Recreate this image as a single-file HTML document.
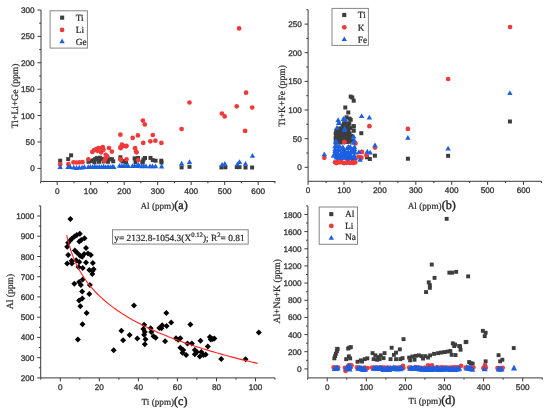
<!DOCTYPE html><html><head><meta charset="utf-8"><style>html,body{margin:0;padding:0;background:#fff;width:550px;height:415px;overflow:hidden}svg{display:block;filter:blur(0.3px)}</style></head><body><svg width="550" height="415" viewBox="0 0 550 415">
<style>.tl{font-family:"Liberation Sans",sans-serif;font-size:8.2px;fill:#333}.lg{font-family:"Liberation Serif",serif;font-size:9.4px;fill:#222}.at{font-family:"Liberation Serif",serif;font-size:9.2px;fill:#333}.pl{font-family:"Liberation Serif",serif;font-size:12.1px;fill:#222;stroke-width:0.4px}.yt{font-size:9.6px}text{stroke:#2a2a2a;stroke-width:0.22px;text-rendering:geometricPrecision}.tl{stroke:#333;stroke-width:0.3px}</style>
<rect width="550" height="415" fill="#fff"/>
<path d="M41 10V181.5H275.5" fill="none" stroke="#3a3a3a" stroke-width="1"/>
<path d="M37.5 168.4H41" stroke="#3a3a3a" stroke-width="1"/>
<text x="34.7" y="171.4" text-anchor="end" class="tl">0</text>
<path d="M39.2 155.2H41" stroke="#3a3a3a" stroke-width="1"/>
<path d="M37.5 142.0H41" stroke="#3a3a3a" stroke-width="1"/>
<text x="34.7" y="145.0" text-anchor="end" class="tl">50</text>
<path d="M39.2 128.8H41" stroke="#3a3a3a" stroke-width="1"/>
<path d="M37.5 115.6H41" stroke="#3a3a3a" stroke-width="1"/>
<text x="34.7" y="118.6" text-anchor="end" class="tl">100</text>
<path d="M39.2 102.4H41" stroke="#3a3a3a" stroke-width="1"/>
<path d="M37.5 89.2H41" stroke="#3a3a3a" stroke-width="1"/>
<text x="34.7" y="92.2" text-anchor="end" class="tl">150</text>
<path d="M39.2 76.0H41" stroke="#3a3a3a" stroke-width="1"/>
<path d="M37.5 62.8H41" stroke="#3a3a3a" stroke-width="1"/>
<text x="34.7" y="65.8" text-anchor="end" class="tl">200</text>
<path d="M39.2 49.6H41" stroke="#3a3a3a" stroke-width="1"/>
<path d="M37.5 36.4H41" stroke="#3a3a3a" stroke-width="1"/>
<text x="34.7" y="39.4" text-anchor="end" class="tl">250</text>
<path d="M39.2 23.2H41" stroke="#3a3a3a" stroke-width="1"/>
<path d="M37.5 10.0H41" stroke="#3a3a3a" stroke-width="1"/>
<text x="34.7" y="13.0" text-anchor="end" class="tl">300</text>
<path d="M40.5 181.5V183.3" stroke="#3a3a3a" stroke-width="1"/>
<path d="M57.2 181.5V185.0" stroke="#3a3a3a" stroke-width="1"/>
<text x="57.2" y="193.5" text-anchor="middle" class="tl">0</text>
<path d="M74.0 181.5V183.3" stroke="#3a3a3a" stroke-width="1"/>
<path d="M90.7 181.5V185.0" stroke="#3a3a3a" stroke-width="1"/>
<text x="90.7" y="193.5" text-anchor="middle" class="tl">100</text>
<path d="M107.5 181.5V183.3" stroke="#3a3a3a" stroke-width="1"/>
<path d="M124.2 181.5V185.0" stroke="#3a3a3a" stroke-width="1"/>
<text x="124.2" y="193.5" text-anchor="middle" class="tl">200</text>
<path d="M140.9 181.5V183.3" stroke="#3a3a3a" stroke-width="1"/>
<path d="M157.7 181.5V185.0" stroke="#3a3a3a" stroke-width="1"/>
<text x="157.7" y="193.5" text-anchor="middle" class="tl">300</text>
<path d="M174.4 181.5V183.3" stroke="#3a3a3a" stroke-width="1"/>
<path d="M191.2 181.5V185.0" stroke="#3a3a3a" stroke-width="1"/>
<text x="191.2" y="193.5" text-anchor="middle" class="tl">400</text>
<path d="M207.9 181.5V183.3" stroke="#3a3a3a" stroke-width="1"/>
<path d="M224.7 181.5V185.0" stroke="#3a3a3a" stroke-width="1"/>
<text x="224.7" y="193.5" text-anchor="middle" class="tl">500</text>
<path d="M241.4 181.5V183.3" stroke="#3a3a3a" stroke-width="1"/>
<path d="M258.2 181.5V185.0" stroke="#3a3a3a" stroke-width="1"/>
<text x="258.2" y="193.5" text-anchor="middle" class="tl">600</text>
<path d="M274.9 181.5V183.3" stroke="#3a3a3a" stroke-width="1"/>
<rect x="58.2" y="158.7" width="4.0" height="4.0" fill="#3d3d3d"/>
<rect x="66.2" y="157.1" width="4.0" height="4.0" fill="#3d3d3d"/>
<rect x="69.1" y="153.3" width="4.0" height="4.0" fill="#3d3d3d"/>
<rect x="86.5" y="159.8" width="4.0" height="4.0" fill="#3d3d3d"/>
<rect x="88.9" y="159.0" width="4.0" height="4.0" fill="#3d3d3d"/>
<rect x="91.4" y="158.2" width="4.0" height="4.0" fill="#3d3d3d"/>
<rect x="93.2" y="157.2" width="4.0" height="4.0" fill="#3d3d3d"/>
<rect x="94.7" y="156.1" width="4.0" height="4.0" fill="#3d3d3d"/>
<rect x="96.5" y="157.5" width="4.0" height="4.0" fill="#3d3d3d"/>
<rect x="97.9" y="155.7" width="4.0" height="4.0" fill="#3d3d3d"/>
<rect x="100.1" y="156.8" width="4.0" height="4.0" fill="#3d3d3d"/>
<rect x="104.0" y="157.9" width="4.0" height="4.0" fill="#3d3d3d"/>
<rect x="107.7" y="157.2" width="4.0" height="4.0" fill="#3d3d3d"/>
<rect x="109.9" y="157.2" width="4.0" height="4.0" fill="#3d3d3d"/>
<rect x="111.2" y="159.3" width="4.0" height="4.0" fill="#3d3d3d"/>
<rect x="92.5" y="160.3" width="4.0" height="4.0" fill="#3d3d3d"/>
<rect x="97.0" y="159.8" width="4.0" height="4.0" fill="#3d3d3d"/>
<rect x="101.5" y="159.5" width="4.0" height="4.0" fill="#3d3d3d"/>
<rect x="106.0" y="159.8" width="4.0" height="4.0" fill="#3d3d3d"/>
<rect x="118.4" y="155.3" width="4.0" height="4.0" fill="#3d3d3d"/>
<rect x="120.5" y="159.5" width="4.0" height="4.0" fill="#3d3d3d"/>
<rect x="123.0" y="159.0" width="4.0" height="4.0" fill="#3d3d3d"/>
<rect x="124.1" y="160.4" width="4.0" height="4.0" fill="#3d3d3d"/>
<rect x="132.6" y="156.4" width="4.0" height="4.0" fill="#3d3d3d"/>
<rect x="136.0" y="156.0" width="4.0" height="4.0" fill="#3d3d3d"/>
<rect x="133.5" y="160.0" width="4.0" height="4.0" fill="#3d3d3d"/>
<rect x="140.6" y="159.8" width="4.0" height="4.0" fill="#3d3d3d"/>
<rect x="141.5" y="157.5" width="4.0" height="4.0" fill="#3d3d3d"/>
<rect x="143.0" y="156.0" width="4.0" height="4.0" fill="#3d3d3d"/>
<rect x="140.5" y="160.5" width="4.0" height="4.0" fill="#3d3d3d"/>
<rect x="148.5" y="155.9" width="4.0" height="4.0" fill="#3d3d3d"/>
<rect x="150.8" y="158.1" width="4.0" height="4.0" fill="#3d3d3d"/>
<rect x="153.6" y="158.7" width="4.0" height="4.0" fill="#3d3d3d"/>
<rect x="159.3" y="158.7" width="4.0" height="4.0" fill="#3d3d3d"/>
<rect x="159.5" y="160.5" width="4.0" height="4.0" fill="#3d3d3d"/>
<rect x="179.6" y="165.4" width="4.0" height="4.0" fill="#3d3d3d"/>
<rect x="187.5" y="164.8" width="4.0" height="4.0" fill="#3d3d3d"/>
<rect x="219.4" y="165.4" width="4.0" height="4.0" fill="#3d3d3d"/>
<rect x="223.4" y="165.3" width="4.0" height="4.0" fill="#3d3d3d"/>
<rect x="234.8" y="165.1" width="4.0" height="4.0" fill="#3d3d3d"/>
<rect x="237.5" y="165.1" width="4.0" height="4.0" fill="#3d3d3d"/>
<rect x="243.5" y="165.5" width="4.0" height="4.0" fill="#3d3d3d"/>
<rect x="250.1" y="165.5" width="4.0" height="4.0" fill="#3d3d3d"/>
<circle cx="60.2" cy="164.4" r="2.35" fill="#f03a3a"/>
<circle cx="68.4" cy="164.2" r="2.35" fill="#f03a3a"/>
<circle cx="73.5" cy="162.3" r="2.35" fill="#f03a3a"/>
<circle cx="76.5" cy="162.5" r="2.35" fill="#f03a3a"/>
<circle cx="79.5" cy="162.3" r="2.35" fill="#f03a3a"/>
<circle cx="82.5" cy="162.2" r="2.35" fill="#f03a3a"/>
<circle cx="88.4" cy="159.3" r="2.35" fill="#f03a3a"/>
<circle cx="92.3" cy="151.9" r="2.35" fill="#f03a3a"/>
<circle cx="94.1" cy="150.1" r="2.35" fill="#f03a3a"/>
<circle cx="96.3" cy="149.0" r="2.35" fill="#f03a3a"/>
<circle cx="98.5" cy="148.0" r="2.35" fill="#f03a3a"/>
<circle cx="100.7" cy="148.3" r="2.35" fill="#f03a3a"/>
<circle cx="102.8" cy="147.2" r="2.35" fill="#f03a3a"/>
<circle cx="103.5" cy="149.8" r="2.35" fill="#f03a3a"/>
<circle cx="101.0" cy="152.3" r="2.35" fill="#f03a3a"/>
<circle cx="109.0" cy="148.0" r="2.35" fill="#f03a3a"/>
<circle cx="111.9" cy="151.6" r="2.35" fill="#f03a3a"/>
<circle cx="105.7" cy="154.8" r="2.35" fill="#f03a3a"/>
<circle cx="107.2" cy="156.3" r="2.35" fill="#f03a3a"/>
<circle cx="105.4" cy="158.8" r="2.35" fill="#f03a3a"/>
<circle cx="104.3" cy="161.0" r="2.35" fill="#f03a3a"/>
<circle cx="97.4" cy="150.8" r="2.35" fill="#f03a3a"/>
<circle cx="120.4" cy="147.3" r="2.35" fill="#f03a3a"/>
<circle cx="123.5" cy="145.8" r="2.35" fill="#f03a3a"/>
<circle cx="126.5" cy="145.8" r="2.35" fill="#f03a3a"/>
<circle cx="120.4" cy="159.3" r="2.35" fill="#f03a3a"/>
<circle cx="126.5" cy="159.3" r="2.35" fill="#f03a3a"/>
<circle cx="121.9" cy="144.7" r="2.35" fill="#f03a3a"/>
<circle cx="126.0" cy="146.3" r="2.35" fill="#f03a3a"/>
<circle cx="120.7" cy="148.2" r="2.35" fill="#f03a3a"/>
<circle cx="120.4" cy="134.7" r="2.35" fill="#f03a3a"/>
<circle cx="132.7" cy="137.9" r="2.35" fill="#f03a3a"/>
<circle cx="137.9" cy="135.4" r="2.35" fill="#f03a3a"/>
<circle cx="142.9" cy="120.6" r="2.35" fill="#f03a3a"/>
<circle cx="144.8" cy="124.4" r="2.35" fill="#f03a3a"/>
<circle cx="152.8" cy="135.0" r="2.35" fill="#f03a3a"/>
<circle cx="143.2" cy="142.9" r="2.35" fill="#f03a3a"/>
<circle cx="150.4" cy="141.3" r="2.35" fill="#f03a3a"/>
<circle cx="155.4" cy="140.7" r="2.35" fill="#f03a3a"/>
<circle cx="161.4" cy="142.9" r="2.35" fill="#f03a3a"/>
<circle cx="135.1" cy="148.2" r="2.35" fill="#f03a3a"/>
<circle cx="136.6" cy="152.3" r="2.35" fill="#f03a3a"/>
<circle cx="121.0" cy="159.8" r="2.35" fill="#f03a3a"/>
<circle cx="138.2" cy="160.0" r="2.35" fill="#f03a3a"/>
<circle cx="136.0" cy="151.5" r="2.35" fill="#f03a3a"/>
<circle cx="181.6" cy="129.0" r="2.35" fill="#f03a3a"/>
<circle cx="189.5" cy="102.5" r="2.35" fill="#f03a3a"/>
<circle cx="221.9" cy="113.5" r="2.35" fill="#f03a3a"/>
<circle cx="224.7" cy="116.4" r="2.35" fill="#f03a3a"/>
<circle cx="236.7" cy="106.3" r="2.35" fill="#f03a3a"/>
<circle cx="246.1" cy="92.7" r="2.35" fill="#f03a3a"/>
<circle cx="252.2" cy="107.5" r="2.35" fill="#f03a3a"/>
<circle cx="245.1" cy="130.9" r="2.35" fill="#f03a3a"/>
<circle cx="239.1" cy="28.4" r="2.35" fill="#f03a3a"/>
<path d="M57.5 169.0L62.9 169.0L60.2 164.2Z" fill="#1d5fe2"/>
<path d="M65.3 169.0L70.7 169.0L68.0 164.2Z" fill="#1d5fe2"/>
<path d="M67.6 169.0L73.0 169.0L70.3 164.2Z" fill="#1d5fe2"/>
<path d="M71.1 169.5L76.5 169.5L73.8 164.7Z" fill="#1d5fe2"/>
<path d="M73.8 169.9L79.2 169.9L76.5 165.1Z" fill="#1d5fe2"/>
<path d="M76.5 169.5L81.9 169.5L79.2 164.7Z" fill="#1d5fe2"/>
<path d="M79.3 169.5L84.7 169.5L82.0 164.7Z" fill="#1d5fe2"/>
<path d="M81.6 169.0L87.0 169.0L84.3 164.2Z" fill="#1d5fe2"/>
<path d="M85.5 169.0L90.9 169.0L88.2 164.2Z" fill="#1d5fe2"/>
<path d="M87.7 168.7L93.1 168.7L90.4 163.9Z" fill="#1d5fe2"/>
<path d="M89.9 169.0L95.3 169.0L92.6 164.2Z" fill="#1d5fe2"/>
<path d="M92.1 168.5L97.5 168.5L94.8 163.7Z" fill="#1d5fe2"/>
<path d="M94.3 169.0L99.7 169.0L97.0 164.2Z" fill="#1d5fe2"/>
<path d="M96.5 168.7L101.9 168.7L99.2 163.9Z" fill="#1d5fe2"/>
<path d="M98.7 169.0L104.1 169.0L101.4 164.2Z" fill="#1d5fe2"/>
<path d="M100.9 168.5L106.3 168.5L103.6 163.7Z" fill="#1d5fe2"/>
<path d="M103.1 169.0L108.5 169.0L105.8 164.2Z" fill="#1d5fe2"/>
<path d="M105.3 168.7L110.7 168.7L108.0 163.9Z" fill="#1d5fe2"/>
<path d="M107.5 169.0L112.9 169.0L110.2 164.2Z" fill="#1d5fe2"/>
<path d="M109.7 168.7L115.1 168.7L112.4 163.9Z" fill="#1d5fe2"/>
<path d="M111.1 169.0L116.5 169.0L113.8 164.2Z" fill="#1d5fe2"/>
<path d="M116.8 167.7L122.2 167.7L119.5 162.9Z" fill="#1d5fe2"/>
<path d="M119.1 168.0L124.5 168.0L121.8 163.2Z" fill="#1d5fe2"/>
<path d="M121.4 167.7L126.8 167.7L124.1 162.9Z" fill="#1d5fe2"/>
<path d="M123.7 168.0L129.1 168.0L126.4 163.2Z" fill="#1d5fe2"/>
<path d="M125.6 168.0L131.0 168.0L128.3 163.2Z" fill="#1d5fe2"/>
<path d="M129.8 168.0L135.2 168.0L132.5 163.2Z" fill="#1d5fe2"/>
<path d="M132.0 167.7L137.4 167.7L134.7 162.9Z" fill="#1d5fe2"/>
<path d="M134.2 168.0L139.6 168.0L136.9 163.2Z" fill="#1d5fe2"/>
<path d="M135.9 166.9L141.3 166.9L138.6 162.1Z" fill="#1d5fe2"/>
<path d="M138.8 168.2L144.2 168.2L141.5 163.4Z" fill="#1d5fe2"/>
<path d="M141.0 168.0L146.4 168.0L143.7 163.2Z" fill="#1d5fe2"/>
<path d="M143.3 168.2L148.7 168.2L146.0 163.4Z" fill="#1d5fe2"/>
<path d="M147.3 168.2L152.7 168.2L150.0 163.4Z" fill="#1d5fe2"/>
<path d="M149.8 168.2L155.2 168.2L152.5 163.4Z" fill="#1d5fe2"/>
<path d="M152.8 168.2L158.2 168.2L155.5 163.4Z" fill="#1d5fe2"/>
<path d="M158.9 168.4L164.3 168.4L161.6 163.6Z" fill="#1d5fe2"/>
<path d="M178.9 165.6L184.3 165.6L181.6 160.8Z" fill="#1d5fe2"/>
<path d="M186.8 164.0L192.2 164.0L189.5 159.2Z" fill="#1d5fe2"/>
<path d="M219.4 166.7L224.8 166.7L222.1 161.9Z" fill="#1d5fe2"/>
<path d="M222.1 165.7L227.5 165.7L224.8 160.9Z" fill="#1d5fe2"/>
<path d="M234.7 166.2L240.1 166.2L237.4 161.4Z" fill="#1d5fe2"/>
<path d="M236.8 164.0L242.2 164.0L239.5 159.2Z" fill="#1d5fe2"/>
<path d="M242.8 165.7L248.2 165.7L245.5 160.9Z" fill="#1d5fe2"/>
<path d="M249.8 157.8L255.2 157.8L252.5 153.0Z" fill="#1d5fe2"/>
<rect x="50.1" y="10.8" width="37.3" height="37.3" fill="#fff" stroke="#858585" stroke-width="1"/>
<rect x="60.1" y="15.6" width="4.1" height="4.1" fill="#3d3d3d"/>
<circle cx="62.1" cy="29.9" r="2.4" fill="#f03a3a"/>
<path d="M59.4 43.2L64.8 43.2L62.1 38.6Z" fill="#1d5fe2"/>
<text x="75.7" y="20.7" class="lg">Ti</text>
<text x="75.7" y="32.5" class="lg">Li</text>
<text x="75.7" y="44.8" class="lg">Ge</text>
<text x="17.8" y="95.9" transform="rotate(-90 17.8 95.9)" text-anchor="middle" class="at yt">Ti+Li+Ge (ppm)</text>
<text x="140.4" y="208.9" class="at">Al (ppm)<tspan class="pl">(a)</tspan></text>
<path d="M308.1 9.8V181.3H541.5" fill="none" stroke="#3a3a3a" stroke-width="1"/>
<path d="M304.6 167.3H308.1" stroke="#3a3a3a" stroke-width="1"/>
<text x="301.8" y="170.3" text-anchor="end" class="tl">0</text>
<path d="M306.3 153.0H308.1" stroke="#3a3a3a" stroke-width="1"/>
<path d="M304.6 138.7H308.1" stroke="#3a3a3a" stroke-width="1"/>
<text x="301.8" y="141.7" text-anchor="end" class="tl">50</text>
<path d="M306.3 124.3H308.1" stroke="#3a3a3a" stroke-width="1"/>
<path d="M304.6 110.0H308.1" stroke="#3a3a3a" stroke-width="1"/>
<text x="301.8" y="113.0" text-anchor="end" class="tl">100</text>
<path d="M306.3 95.7H308.1" stroke="#3a3a3a" stroke-width="1"/>
<path d="M304.6 81.4H308.1" stroke="#3a3a3a" stroke-width="1"/>
<text x="301.8" y="84.4" text-anchor="end" class="tl">150</text>
<path d="M306.3 67.0H308.1" stroke="#3a3a3a" stroke-width="1"/>
<path d="M304.6 52.7H308.1" stroke="#3a3a3a" stroke-width="1"/>
<text x="301.8" y="55.7" text-anchor="end" class="tl">200</text>
<path d="M306.3 38.4H308.1" stroke="#3a3a3a" stroke-width="1"/>
<path d="M304.6 24.1H308.1" stroke="#3a3a3a" stroke-width="1"/>
<text x="301.8" y="27.1" text-anchor="end" class="tl">250</text>
<path d="M306.3 9.7H308.1" stroke="#3a3a3a" stroke-width="1"/>
<path d="M308.1 181.3V184.8" stroke="#3a3a3a" stroke-width="1"/>
<text x="308.1" y="193.3" text-anchor="middle" class="tl">0</text>
<path d="M326.1 181.3V183.10000000000002" stroke="#3a3a3a" stroke-width="1"/>
<path d="M344.0 181.3V184.8" stroke="#3a3a3a" stroke-width="1"/>
<text x="344.0" y="193.3" text-anchor="middle" class="tl">100</text>
<path d="M362.0 181.3V183.10000000000002" stroke="#3a3a3a" stroke-width="1"/>
<path d="M379.9 181.3V184.8" stroke="#3a3a3a" stroke-width="1"/>
<text x="379.9" y="193.3" text-anchor="middle" class="tl">200</text>
<path d="M397.9 181.3V183.10000000000002" stroke="#3a3a3a" stroke-width="1"/>
<path d="M415.8 181.3V184.8" stroke="#3a3a3a" stroke-width="1"/>
<text x="415.8" y="193.3" text-anchor="middle" class="tl">300</text>
<path d="M433.8 181.3V183.10000000000002" stroke="#3a3a3a" stroke-width="1"/>
<path d="M451.7 181.3V184.8" stroke="#3a3a3a" stroke-width="1"/>
<text x="451.7" y="193.3" text-anchor="middle" class="tl">400</text>
<path d="M469.6 181.3V183.10000000000002" stroke="#3a3a3a" stroke-width="1"/>
<path d="M487.6 181.3V184.8" stroke="#3a3a3a" stroke-width="1"/>
<text x="487.6" y="193.3" text-anchor="middle" class="tl">500</text>
<path d="M505.6 181.3V183.10000000000002" stroke="#3a3a3a" stroke-width="1"/>
<path d="M523.5 181.3V184.8" stroke="#3a3a3a" stroke-width="1"/>
<text x="523.5" y="193.3" text-anchor="middle" class="tl">600</text>
<path d="M541.5 181.3V183.10000000000002" stroke="#3a3a3a" stroke-width="1"/>
<rect x="348.7" y="94.6" width="4.0" height="4.0" fill="#3d3d3d"/>
<rect x="350.3" y="95.5" width="4.0" height="4.0" fill="#3d3d3d"/>
<rect x="351.7" y="98.7" width="4.0" height="4.0" fill="#3d3d3d"/>
<rect x="343.3" y="105.5" width="4.0" height="4.0" fill="#3d3d3d"/>
<rect x="346.3" y="110.5" width="4.0" height="4.0" fill="#3d3d3d"/>
<rect x="344.5" y="115.3" width="4.0" height="4.0" fill="#3d3d3d"/>
<rect x="347.5" y="116.6" width="4.0" height="4.0" fill="#3d3d3d"/>
<rect x="348.7" y="117.8" width="4.0" height="4.0" fill="#3d3d3d"/>
<rect x="351.7" y="124.1" width="4.0" height="4.0" fill="#3d3d3d"/>
<rect x="342.1" y="121.4" width="4.0" height="4.0" fill="#3d3d3d"/>
<rect x="344.5" y="123.8" width="4.0" height="4.0" fill="#3d3d3d"/>
<rect x="351.7" y="124.5" width="4.0" height="4.0" fill="#3d3d3d"/>
<rect x="351.7" y="128.8" width="4.0" height="4.0" fill="#3d3d3d"/>
<rect x="359.3" y="131.2" width="4.0" height="4.0" fill="#3d3d3d"/>
<rect x="364.9" y="155.3" width="4.0" height="4.0" fill="#3d3d3d"/>
<rect x="367.8" y="157.0" width="4.0" height="4.0" fill="#3d3d3d"/>
<rect x="372.9" y="153.7" width="4.0" height="4.0" fill="#3d3d3d"/>
<rect x="405.9" y="156.7" width="4.0" height="4.0" fill="#3d3d3d"/>
<rect x="446.1" y="153.8" width="4.0" height="4.0" fill="#3d3d3d"/>
<rect x="507.9" y="119.5" width="4.0" height="4.0" fill="#3d3d3d"/>
<rect x="351.0" y="158.0" width="4.0" height="4.0" fill="#3d3d3d"/>
<rect x="348.0" y="156.0" width="4.0" height="4.0" fill="#3d3d3d"/>
<rect x="342.5" y="121.3" width="4.0" height="4.0" fill="#3d3d3d"/>
<rect x="345.3" y="121.6" width="4.0" height="4.0" fill="#3d3d3d"/>
<rect x="347.3" y="121.4" width="4.0" height="4.0" fill="#3d3d3d"/>
<rect x="340.6" y="123.6" width="4.0" height="4.0" fill="#3d3d3d"/>
<rect x="342.9" y="123.8" width="4.0" height="4.0" fill="#3d3d3d"/>
<rect x="346.5" y="124.1" width="4.0" height="4.0" fill="#3d3d3d"/>
<rect x="336.5" y="126.7" width="4.0" height="4.0" fill="#3d3d3d"/>
<rect x="338.7" y="126.5" width="4.0" height="4.0" fill="#3d3d3d"/>
<rect x="342.0" y="126.9" width="4.0" height="4.0" fill="#3d3d3d"/>
<rect x="345.1" y="126.2" width="4.0" height="4.0" fill="#3d3d3d"/>
<rect x="348.3" y="126.0" width="4.0" height="4.0" fill="#3d3d3d"/>
<rect x="334.3" y="128.8" width="4.0" height="4.0" fill="#3d3d3d"/>
<rect x="337.0" y="129.0" width="4.0" height="4.0" fill="#3d3d3d"/>
<rect x="340.8" y="128.9" width="4.0" height="4.0" fill="#3d3d3d"/>
<rect x="343.9" y="128.6" width="4.0" height="4.0" fill="#3d3d3d"/>
<rect x="346.5" y="128.9" width="4.0" height="4.0" fill="#3d3d3d"/>
<rect x="333.7" y="131.6" width="4.0" height="4.0" fill="#3d3d3d"/>
<rect x="336.1" y="131.3" width="4.0" height="4.0" fill="#3d3d3d"/>
<rect x="338.5" y="131.3" width="4.0" height="4.0" fill="#3d3d3d"/>
<rect x="342.1" y="131.7" width="4.0" height="4.0" fill="#3d3d3d"/>
<rect x="345.2" y="130.8" width="4.0" height="4.0" fill="#3d3d3d"/>
<rect x="347.6" y="131.3" width="4.0" height="4.0" fill="#3d3d3d"/>
<rect x="334.3" y="133.0" width="4.0" height="4.0" fill="#3d3d3d"/>
<rect x="337.1" y="133.7" width="4.0" height="4.0" fill="#3d3d3d"/>
<rect x="340.1" y="133.1" width="4.0" height="4.0" fill="#3d3d3d"/>
<rect x="343.3" y="133.9" width="4.0" height="4.0" fill="#3d3d3d"/>
<rect x="345.8" y="133.4" width="4.0" height="4.0" fill="#3d3d3d"/>
<rect x="349.3" y="133.9" width="4.0" height="4.0" fill="#3d3d3d"/>
<rect x="333.6" y="136.2" width="4.0" height="4.0" fill="#3d3d3d"/>
<rect x="335.9" y="135.6" width="4.0" height="4.0" fill="#3d3d3d"/>
<rect x="338.9" y="136.2" width="4.0" height="4.0" fill="#3d3d3d"/>
<rect x="342.5" y="135.3" width="4.0" height="4.0" fill="#3d3d3d"/>
<rect x="344.5" y="135.4" width="4.0" height="4.0" fill="#3d3d3d"/>
<rect x="347.4" y="135.7" width="4.0" height="4.0" fill="#3d3d3d"/>
<rect x="334.1" y="138.0" width="4.0" height="4.0" fill="#3d3d3d"/>
<rect x="337.4" y="138.1" width="4.0" height="4.0" fill="#3d3d3d"/>
<rect x="341.0" y="138.3" width="4.0" height="4.0" fill="#3d3d3d"/>
<rect x="343.4" y="138.2" width="4.0" height="4.0" fill="#3d3d3d"/>
<rect x="346.5" y="137.5" width="4.0" height="4.0" fill="#3d3d3d"/>
<rect x="349.7" y="138.4" width="4.0" height="4.0" fill="#3d3d3d"/>
<rect x="333.7" y="140.7" width="4.0" height="4.0" fill="#3d3d3d"/>
<rect x="336.0" y="140.3" width="4.0" height="4.0" fill="#3d3d3d"/>
<rect x="338.6" y="140.5" width="4.0" height="4.0" fill="#3d3d3d"/>
<rect x="341.4" y="139.9" width="4.0" height="4.0" fill="#3d3d3d"/>
<rect x="344.5" y="140.0" width="4.0" height="4.0" fill="#3d3d3d"/>
<rect x="347.6" y="139.8" width="4.0" height="4.0" fill="#3d3d3d"/>
<circle cx="337.6" cy="161.2" r="2.35" fill="#f03a3a"/>
<circle cx="347.6" cy="161.3" r="2.35" fill="#f03a3a"/>
<circle cx="335.0" cy="162.3" r="2.35" fill="#f03a3a"/>
<circle cx="336.5" cy="163.1" r="2.35" fill="#f03a3a"/>
<circle cx="339.3" cy="162.3" r="2.35" fill="#f03a3a"/>
<circle cx="341.6" cy="162.2" r="2.35" fill="#f03a3a"/>
<circle cx="343.9" cy="163.1" r="2.35" fill="#f03a3a"/>
<circle cx="346.5" cy="162.8" r="2.35" fill="#f03a3a"/>
<circle cx="348.2" cy="162.5" r="2.35" fill="#f03a3a"/>
<circle cx="350.4" cy="162.9" r="2.35" fill="#f03a3a"/>
<circle cx="353.1" cy="162.9" r="2.35" fill="#f03a3a"/>
<circle cx="355.2" cy="162.4" r="2.35" fill="#f03a3a"/>
<circle cx="344.3" cy="142.1" r="2.35" fill="#f03a3a"/>
<path d="M332.2 148.2L337.6 148.2L334.9 143.4Z" fill="#1d5fe2"/>
<path d="M333.9 148.0L339.3 148.0L336.6 143.2Z" fill="#1d5fe2"/>
<path d="M336.6 147.9L342.0 147.9L339.3 143.1Z" fill="#1d5fe2"/>
<path d="M340.1 149.0L345.5 149.0L342.8 144.2Z" fill="#1d5fe2"/>
<path d="M345.7 148.9L351.1 148.9L348.4 144.1Z" fill="#1d5fe2"/>
<path d="M347.6 148.7L353.0 148.7L350.3 143.9Z" fill="#1d5fe2"/>
<path d="M351.8 148.9L357.2 148.9L354.5 144.1Z" fill="#1d5fe2"/>
<path d="M332.4 151.1L337.8 151.1L335.1 146.3Z" fill="#1d5fe2"/>
<path d="M335.4 151.1L340.8 151.1L338.1 146.3Z" fill="#1d5fe2"/>
<path d="M339.3 150.5L344.7 150.5L342.0 145.7Z" fill="#1d5fe2"/>
<path d="M341.1 151.4L346.5 151.4L343.8 146.6Z" fill="#1d5fe2"/>
<path d="M344.5 150.1L349.9 150.1L347.2 145.3Z" fill="#1d5fe2"/>
<path d="M346.3 150.1L351.7 150.1L349.0 145.3Z" fill="#1d5fe2"/>
<path d="M350.3 151.1L355.7 151.1L353.0 146.3Z" fill="#1d5fe2"/>
<path d="M351.9 151.2L357.3 151.2L354.6 146.4Z" fill="#1d5fe2"/>
<path d="M332.3 153.1L337.7 153.1L335.0 148.3Z" fill="#1d5fe2"/>
<path d="M334.1 153.0L339.5 153.0L336.8 148.2Z" fill="#1d5fe2"/>
<path d="M336.5 152.1L341.9 152.1L339.2 147.3Z" fill="#1d5fe2"/>
<path d="M340.7 153.1L346.1 153.1L343.4 148.3Z" fill="#1d5fe2"/>
<path d="M342.7 153.6L348.1 153.6L345.4 148.8Z" fill="#1d5fe2"/>
<path d="M345.4 153.5L350.8 153.5L348.1 148.7Z" fill="#1d5fe2"/>
<path d="M348.8 152.4L354.2 152.4L351.5 147.6Z" fill="#1d5fe2"/>
<path d="M350.7 152.5L356.1 152.5L353.4 147.7Z" fill="#1d5fe2"/>
<path d="M332.5 155.0L337.9 155.0L335.2 150.2Z" fill="#1d5fe2"/>
<path d="M335.1 155.8L340.5 155.8L337.8 151.0Z" fill="#1d5fe2"/>
<path d="M338.3 155.1L343.7 155.1L341.0 150.3Z" fill="#1d5fe2"/>
<path d="M341.4 155.8L346.8 155.8L344.1 151.0Z" fill="#1d5fe2"/>
<path d="M344.0 155.8L349.4 155.8L346.7 151.0Z" fill="#1d5fe2"/>
<path d="M346.9 155.2L352.3 155.2L349.6 150.4Z" fill="#1d5fe2"/>
<path d="M349.7 154.3L355.1 154.3L352.4 149.5Z" fill="#1d5fe2"/>
<path d="M352.4 154.6L357.8 154.6L355.1 149.8Z" fill="#1d5fe2"/>
<path d="M330.7 157.8L336.1 157.8L333.4 153.0Z" fill="#1d5fe2"/>
<path d="M333.8 157.3L339.2 157.3L336.5 152.5Z" fill="#1d5fe2"/>
<path d="M337.5 157.5L342.9 157.5L340.2 152.7Z" fill="#1d5fe2"/>
<path d="M339.6 157.4L345.0 157.4L342.3 152.6Z" fill="#1d5fe2"/>
<path d="M342.8 157.8L348.2 157.8L345.5 153.0Z" fill="#1d5fe2"/>
<path d="M344.9 157.5L350.3 157.5L347.6 152.7Z" fill="#1d5fe2"/>
<path d="M347.9 157.0L353.3 157.0L350.6 152.2Z" fill="#1d5fe2"/>
<path d="M351.5 157.4L356.9 157.4L354.2 152.6Z" fill="#1d5fe2"/>
<path d="M333.6 159.5L339.0 159.5L336.3 154.7Z" fill="#1d5fe2"/>
<path d="M335.9 159.6L341.3 159.6L338.6 154.8Z" fill="#1d5fe2"/>
<path d="M338.5 159.9L343.9 159.9L341.2 155.1Z" fill="#1d5fe2"/>
<path d="M341.2 159.7L346.6 159.7L343.9 154.9Z" fill="#1d5fe2"/>
<path d="M344.1 160.3L349.5 160.3L346.8 155.5Z" fill="#1d5fe2"/>
<path d="M347.2 160.2L352.6 160.2L349.9 155.4Z" fill="#1d5fe2"/>
<path d="M350.4 159.2L355.8 159.2L353.1 154.4Z" fill="#1d5fe2"/>
<path d="M352.6 160.3L358.0 160.3L355.3 155.5Z" fill="#1d5fe2"/>
<circle cx="369.4" cy="126.2" r="2.35" fill="#f03a3a"/>
<circle cx="324.3" cy="157.8" r="2.35" fill="#f03a3a"/>
<circle cx="375.0" cy="147.6" r="2.35" fill="#f03a3a"/>
<circle cx="361.8" cy="151.9" r="2.35" fill="#f03a3a"/>
<circle cx="358.4" cy="156.9" r="2.35" fill="#f03a3a"/>
<circle cx="361.4" cy="157.8" r="2.35" fill="#f03a3a"/>
<circle cx="366.4" cy="155.2" r="2.35" fill="#f03a3a"/>
<circle cx="353.4" cy="162.0" r="2.35" fill="#f03a3a"/>
<circle cx="344.3" cy="142.2" r="2.35" fill="#f03a3a"/>
<circle cx="361.9" cy="152.0" r="2.35" fill="#f03a3a"/>
<circle cx="360.8" cy="157.4" r="2.35" fill="#f03a3a"/>
<circle cx="355.5" cy="143.4" r="2.35" fill="#f03a3a"/>
<circle cx="510.1" cy="27.0" r="2.35" fill="#f03a3a"/>
<circle cx="448.1" cy="79.0" r="2.35" fill="#f03a3a"/>
<circle cx="407.9" cy="128.9" r="2.35" fill="#f03a3a"/>
<path d="M358.9 118.1L364.3 118.1L361.6 113.3Z" fill="#1d5fe2"/>
<path d="M366.7 119.5L372.1 119.5L369.4 114.7Z" fill="#1d5fe2"/>
<path d="M335.4 122.0L340.8 122.0L338.1 117.2Z" fill="#1d5fe2"/>
<path d="M342.6 121.4L348.0 121.4L345.3 116.6Z" fill="#1d5fe2"/>
<path d="M336.0 125.0L341.4 125.0L338.7 120.2Z" fill="#1d5fe2"/>
<path d="M334.2 129.8L339.6 129.8L336.9 125.0Z" fill="#1d5fe2"/>
<path d="M342.0 130.4L347.4 130.4L344.7 125.6Z" fill="#1d5fe2"/>
<path d="M336.4 124.4L341.8 124.4L339.1 119.6Z" fill="#1d5fe2"/>
<path d="M341.8 132.0L347.2 132.0L344.5 127.2Z" fill="#1d5fe2"/>
<path d="M351.0 138.5L356.4 138.5L353.7 133.7Z" fill="#1d5fe2"/>
<path d="M333.1 143.3L338.5 143.3L335.8 138.5Z" fill="#1d5fe2"/>
<path d="M351.6 142.3L357.0 142.3L354.3 137.5Z" fill="#1d5fe2"/>
<path d="M340.7 120.9L346.1 120.9L343.4 116.1Z" fill="#1d5fe2"/>
<path d="M321.6 156.3L327.0 156.3L324.3 151.5Z" fill="#1d5fe2"/>
<path d="M333.6 143.8L339.0 143.8L336.3 139.0Z" fill="#1d5fe2"/>
<path d="M350.8 144.7L356.2 144.7L353.5 139.9Z" fill="#1d5fe2"/>
<path d="M372.3 147.3L377.7 147.3L375.0 142.5Z" fill="#1d5fe2"/>
<path d="M356.2 154.1L361.6 154.1L358.9 149.3Z" fill="#1d5fe2"/>
<path d="M357.4 161.7L362.8 161.7L360.1 156.9Z" fill="#1d5fe2"/>
<path d="M364.6 153.6L370.0 153.6L367.3 148.8Z" fill="#1d5fe2"/>
<path d="M367.5 154.5L372.9 154.5L370.2 149.7Z" fill="#1d5fe2"/>
<path d="M507.2 95.0L512.6 95.0L509.9 90.2Z" fill="#1d5fe2"/>
<path d="M445.4 150.6L450.8 150.6L448.1 145.8Z" fill="#1d5fe2"/>
<path d="M405.2 139.7L410.6 139.7L407.9 134.9Z" fill="#1d5fe2"/>
<rect x="332" y="8.4" width="36.4" height="37.0" fill="#fff" stroke="#858585" stroke-width="1"/>
<rect x="342.2" y="12.9" width="4.1" height="4.1" fill="#3d3d3d"/>
<circle cx="344.3" cy="27.3" r="2.4" fill="#f03a3a"/>
<path d="M341.6 41.0L347.0 41.0L344.3 36.4Z" fill="#1d5fe2"/>
<text x="357.8" y="18.4" class="lg">Ti</text>
<text x="357.8" y="30.5" class="lg">K</text>
<text x="357.8" y="42.5" class="lg">Fe</text>
<text x="284.8" y="95.8" transform="rotate(-90 284.8 95.8)" text-anchor="middle" class="at yt">Ti+K+Fe (ppm)</text>
<text x="407.7" y="208.8" class="at">Al (ppm)<tspan class="pl">(b)</tspan></text>
<path d="M40.7 205.9V377.9H274.9" fill="none" stroke="#3a3a3a" stroke-width="1"/>
<path d="M37.2 377.9H40.7" stroke="#3a3a3a" stroke-width="1"/>
<text x="34.4" y="380.9" text-anchor="end" class="tl">200</text>
<path d="M38.900000000000006 367.8H40.7" stroke="#3a3a3a" stroke-width="1"/>
<path d="M37.2 357.7H40.7" stroke="#3a3a3a" stroke-width="1"/>
<text x="34.4" y="360.7" text-anchor="end" class="tl">300</text>
<path d="M38.900000000000006 347.5H40.7" stroke="#3a3a3a" stroke-width="1"/>
<path d="M37.2 337.4H40.7" stroke="#3a3a3a" stroke-width="1"/>
<text x="34.4" y="340.4" text-anchor="end" class="tl">400</text>
<path d="M38.900000000000006 327.3H40.7" stroke="#3a3a3a" stroke-width="1"/>
<path d="M37.2 317.2H40.7" stroke="#3a3a3a" stroke-width="1"/>
<text x="34.4" y="320.2" text-anchor="end" class="tl">500</text>
<path d="M38.900000000000006 307.1H40.7" stroke="#3a3a3a" stroke-width="1"/>
<path d="M37.2 296.9H40.7" stroke="#3a3a3a" stroke-width="1"/>
<text x="34.4" y="299.9" text-anchor="end" class="tl">600</text>
<path d="M38.900000000000006 286.8H40.7" stroke="#3a3a3a" stroke-width="1"/>
<path d="M37.2 276.7H40.7" stroke="#3a3a3a" stroke-width="1"/>
<text x="34.4" y="279.7" text-anchor="end" class="tl">700</text>
<path d="M38.900000000000006 266.6H40.7" stroke="#3a3a3a" stroke-width="1"/>
<path d="M37.2 256.5H40.7" stroke="#3a3a3a" stroke-width="1"/>
<text x="34.4" y="259.5" text-anchor="end" class="tl">800</text>
<path d="M38.900000000000006 246.3H40.7" stroke="#3a3a3a" stroke-width="1"/>
<path d="M37.2 236.2H40.7" stroke="#3a3a3a" stroke-width="1"/>
<text x="34.4" y="239.2" text-anchor="end" class="tl">900</text>
<path d="M38.900000000000006 226.1H40.7" stroke="#3a3a3a" stroke-width="1"/>
<path d="M37.2 216.0H40.7" stroke="#3a3a3a" stroke-width="1"/>
<text x="34.4" y="219.0" text-anchor="end" class="tl">1000</text>
<path d="M38.900000000000006 205.9H40.7" stroke="#3a3a3a" stroke-width="1"/>
<path d="M40.8 377.9V379.7" stroke="#3a3a3a" stroke-width="1"/>
<path d="M60.3 377.9V381.4" stroke="#3a3a3a" stroke-width="1"/>
<text x="60.3" y="389.9" text-anchor="middle" class="tl">0</text>
<path d="M79.8 377.9V379.7" stroke="#3a3a3a" stroke-width="1"/>
<path d="M99.3 377.9V381.4" stroke="#3a3a3a" stroke-width="1"/>
<text x="99.3" y="389.9" text-anchor="middle" class="tl">20</text>
<path d="M118.9 377.9V379.7" stroke="#3a3a3a" stroke-width="1"/>
<path d="M138.4 377.9V381.4" stroke="#3a3a3a" stroke-width="1"/>
<text x="138.4" y="389.9" text-anchor="middle" class="tl">40</text>
<path d="M157.9 377.9V379.7" stroke="#3a3a3a" stroke-width="1"/>
<path d="M177.4 377.9V381.4" stroke="#3a3a3a" stroke-width="1"/>
<text x="177.4" y="389.9" text-anchor="middle" class="tl">60</text>
<path d="M196.9 377.9V379.7" stroke="#3a3a3a" stroke-width="1"/>
<path d="M216.5 377.9V381.4" stroke="#3a3a3a" stroke-width="1"/>
<text x="216.5" y="389.9" text-anchor="middle" class="tl">80</text>
<path d="M236.0 377.9V379.7" stroke="#3a3a3a" stroke-width="1"/>
<path d="M255.5 377.9V381.4" stroke="#3a3a3a" stroke-width="1"/>
<text x="255.5" y="389.9" text-anchor="middle" class="tl">100</text>
<path d="M275.0 377.9V379.7" stroke="#3a3a3a" stroke-width="1"/>
<path d="M70.4 216.0L73.4 219.0L70.4 222.0L67.4 219.0Z" fill="#000"/>
<path d="M79.8 230.7L82.8 233.7L79.8 236.7L76.8 233.7Z" fill="#000"/>
<path d="M76.9 232.1L79.9 235.1L76.9 238.1L73.9 235.1Z" fill="#000"/>
<path d="M74.5 233.6L77.5 236.6L74.5 239.6L71.5 236.6Z" fill="#000"/>
<path d="M72.0 235.5L75.0 238.5L72.0 241.5L69.0 238.5Z" fill="#000"/>
<path d="M70.1 237.4L73.1 240.4L70.1 243.4L67.1 240.4Z" fill="#000"/>
<path d="M68.2 239.8L71.2 242.8L68.2 245.8L65.2 242.8Z" fill="#000"/>
<path d="M84.5 235.2L87.5 238.2L84.5 241.2L81.5 238.2Z" fill="#000"/>
<path d="M81.2 236.9L84.2 239.9L81.2 242.9L78.2 239.9Z" fill="#000"/>
<path d="M79.3 238.4L82.3 241.4L79.3 244.4L76.3 241.4Z" fill="#000"/>
<path d="M67.2 243.7L70.2 246.7L67.2 249.7L64.2 246.7Z" fill="#000"/>
<path d="M86.0 245.1L89.0 248.1L86.0 251.1L83.0 248.1Z" fill="#000"/>
<path d="M74.9 247.5L77.9 250.5L74.9 253.5L71.9 250.5Z" fill="#000"/>
<path d="M77.3 250.0L80.3 253.0L77.3 256.0L74.3 253.0Z" fill="#000"/>
<path d="M68.2 251.9L71.2 254.9L68.2 257.9L65.2 254.9Z" fill="#000"/>
<path d="M84.1 250.9L87.1 253.9L84.1 256.9L81.1 253.9Z" fill="#000"/>
<path d="M88.0 250.4L91.0 253.4L88.0 256.4L85.0 253.4Z" fill="#000"/>
<path d="M90.8 251.9L93.8 254.9L90.8 257.9L87.8 254.9Z" fill="#000"/>
<path d="M80.2 252.8L83.2 255.8L80.2 258.8L77.2 255.8Z" fill="#000"/>
<path d="M82.2 253.8L85.2 256.8L82.2 259.8L79.2 256.8Z" fill="#000"/>
<path d="M67.2 260.6L70.2 263.6L67.2 266.6L64.2 263.6Z" fill="#000"/>
<path d="M71.6 257.7L74.6 260.7L71.6 263.7L68.6 260.7Z" fill="#000"/>
<path d="M79.3 259.1L82.3 262.1L79.3 265.1L76.3 262.1Z" fill="#000"/>
<path d="M86.0 259.6L89.0 262.6L86.0 265.6L83.0 262.6Z" fill="#000"/>
<path d="M92.8 260.1L95.8 263.1L92.8 266.1L89.8 263.1Z" fill="#000"/>
<path d="M71.9 260.5L74.9 263.5L71.9 266.5L68.9 263.5Z" fill="#000"/>
<path d="M76.1 257.2L79.1 260.2L76.1 263.2L73.1 260.2Z" fill="#000"/>
<path d="M78.5 263.9L81.5 266.9L78.5 269.9L75.5 266.9Z" fill="#000"/>
<path d="M82.7 265.1L85.7 268.1L82.7 271.1L79.7 268.1Z" fill="#000"/>
<path d="M89.3 266.9L92.3 269.9L89.3 272.9L86.3 269.9Z" fill="#000"/>
<path d="M92.3 268.1L95.3 271.1L92.3 274.1L89.3 271.1Z" fill="#000"/>
<path d="M93.6 266.3L96.6 269.3L93.6 272.3L90.6 269.3Z" fill="#000"/>
<path d="M92.3 271.1L95.3 274.1L92.3 277.1L89.3 274.1Z" fill="#000"/>
<path d="M82.7 276.5L85.7 279.5L82.7 282.5L79.7 279.5Z" fill="#000"/>
<path d="M79.1 279.0L82.1 282.0L79.1 285.0L76.1 282.0Z" fill="#000"/>
<path d="M74.3 280.7L77.3 283.7L74.3 286.7L71.3 283.7Z" fill="#000"/>
<path d="M80.9 281.9L83.9 284.9L80.9 287.9L77.9 284.9Z" fill="#000"/>
<path d="M89.9 281.9L92.9 284.9L89.9 287.9L86.9 284.9Z" fill="#000"/>
<path d="M82.1 288.6L85.1 291.6L82.1 294.6L79.1 291.6Z" fill="#000"/>
<path d="M89.3 291.0L92.3 294.0L89.3 297.0L86.3 294.0Z" fill="#000"/>
<path d="M82.3 295.5L85.3 298.5L82.3 301.5L79.3 298.5Z" fill="#000"/>
<path d="M79.1 297.6L82.1 300.6L79.1 303.6L76.1 300.6Z" fill="#000"/>
<path d="M80.3 303.3L83.3 306.3L80.3 309.3L77.3 306.3Z" fill="#000"/>
<path d="M86.6 310.1L89.6 313.1L86.6 316.1L83.6 313.1Z" fill="#000"/>
<path d="M82.5 321.3L85.5 324.3L82.5 327.3L79.5 324.3Z" fill="#000"/>
<path d="M77.9 336.6L80.9 339.6L77.9 342.6L74.9 339.6Z" fill="#000"/>
<path d="M134.0 302.6L137.0 305.6L134.0 308.6L131.0 305.6Z" fill="#000"/>
<path d="M121.4 327.8L124.4 330.8L121.4 333.8L118.4 330.8Z" fill="#000"/>
<path d="M129.6 332.1L132.6 335.1L129.6 338.1L126.6 335.1Z" fill="#000"/>
<path d="M123.1 337.3L126.1 340.3L123.1 343.3L120.1 340.3Z" fill="#000"/>
<path d="M137.3 335.4L140.3 338.4L137.3 341.4L134.3 338.4Z" fill="#000"/>
<path d="M113.7 347.2L116.7 350.2L113.7 353.2L110.7 350.2Z" fill="#000"/>
<path d="M144.1 321.7L147.1 324.7L144.1 327.7L141.1 324.7Z" fill="#000"/>
<path d="M143.4 326.0L146.4 329.0L143.4 332.0L140.4 329.0Z" fill="#000"/>
<path d="M144.8 328.9L147.8 331.9L144.8 334.9L141.8 331.9Z" fill="#000"/>
<path d="M144.1 331.8L147.1 334.8L144.1 337.8L141.1 334.8Z" fill="#000"/>
<path d="M145.5 336.2L148.5 339.2L145.5 342.2L142.5 339.2Z" fill="#000"/>
<path d="M144.8 341.2L147.8 344.2L144.8 347.2L141.8 344.2Z" fill="#000"/>
<path d="M150.6 325.3L153.6 328.3L150.6 331.3L147.6 328.3Z" fill="#000"/>
<path d="M151.3 328.9L154.3 331.9L151.3 334.9L148.3 331.9Z" fill="#000"/>
<path d="M153.5 333.3L156.5 336.3L153.5 339.3L150.5 336.3Z" fill="#000"/>
<path d="M155.7 334.7L158.7 337.7L155.7 340.7L152.7 337.7Z" fill="#000"/>
<path d="M159.3 324.9L162.3 327.9L159.3 330.9L156.3 327.9Z" fill="#000"/>
<path d="M166.3 310.0L169.3 313.0L166.3 316.0L163.3 313.0Z" fill="#000"/>
<path d="M171.2 319.4L174.2 322.4L171.2 325.4L168.2 322.4Z" fill="#000"/>
<path d="M162.2 322.3L165.2 325.3L162.2 328.3L159.2 325.3Z" fill="#000"/>
<path d="M166.6 323.0L169.6 326.0L166.6 329.0L163.6 326.0Z" fill="#000"/>
<path d="M161.5 325.2L164.5 328.2L161.5 331.2L158.5 328.2Z" fill="#000"/>
<path d="M190.4 321.6L193.4 324.6L190.4 327.6L187.4 324.6Z" fill="#000"/>
<path d="M165.1 338.2L168.1 341.2L165.1 344.2L162.1 341.2Z" fill="#000"/>
<path d="M176.0 335.3L179.0 338.3L176.0 341.3L173.0 338.3Z" fill="#000"/>
<path d="M180.3 335.3L183.3 338.3L180.3 341.3L177.3 338.3Z" fill="#000"/>
<path d="M178.1 336.8L181.1 339.8L178.1 342.8L175.1 339.8Z" fill="#000"/>
<path d="M187.5 340.4L190.5 343.4L187.5 346.4L184.5 343.4Z" fill="#000"/>
<path d="M191.9 340.4L194.9 343.4L191.9 346.4L188.9 343.4Z" fill="#000"/>
<path d="M180.3 344.7L183.3 347.7L180.3 350.7L177.3 347.7Z" fill="#000"/>
<path d="M183.2 346.9L186.2 349.9L183.2 352.9L180.2 349.9Z" fill="#000"/>
<path d="M182.5 349.8L185.5 352.8L182.5 355.8L179.5 352.8Z" fill="#000"/>
<path d="M186.1 351.9L189.1 354.9L186.1 357.9L183.1 354.9Z" fill="#000"/>
<path d="M194.8 346.9L197.8 349.9L194.8 352.9L191.8 349.9Z" fill="#000"/>
<path d="M196.9 349.0L199.9 352.0L196.9 355.0L193.9 352.0Z" fill="#000"/>
<path d="M194.8 351.2L197.8 354.2L194.8 357.2L191.8 354.2Z" fill="#000"/>
<path d="M201.3 349.0L204.3 352.0L201.3 355.0L198.3 352.0Z" fill="#000"/>
<path d="M203.4 351.9L206.4 354.9L203.4 357.9L200.4 354.9Z" fill="#000"/>
<path d="M199.8 353.4L202.8 356.4L199.8 359.4L196.8 356.4Z" fill="#000"/>
<path d="M200.5 337.8L203.5 340.8L200.5 343.8L197.5 340.8Z" fill="#000"/>
<path d="M207.8 343.6L210.8 346.6L207.8 349.6L204.8 346.6Z" fill="#000"/>
<path d="M209.9 333.9L212.9 336.9L209.9 339.9L206.9 336.9Z" fill="#000"/>
<path d="M212.8 336.0L215.8 339.0L212.8 342.0L209.8 339.0Z" fill="#000"/>
<path d="M258.8 329.6L261.8 332.6L258.8 335.6L255.8 332.6Z" fill="#000"/>
<path d="M210.8 336.5L213.8 339.5L210.8 342.5L207.8 339.5Z" fill="#000"/>
<path d="M214.4 335.5L217.4 338.5L214.4 341.5L211.4 338.5Z" fill="#000"/>
<path d="M205.7 351.4L208.7 354.4L205.7 357.4L202.7 354.4Z" fill="#000"/>
<path d="M221.2 356.0L224.2 359.0L221.2 362.0L218.2 359.0Z" fill="#000"/>
<path d="M245.5 356.3L248.5 359.3L245.5 362.3L242.5 359.3Z" fill="#000"/>
<path d="M66.7 235.2 L67.2 237.4 L67.7 239.4 L68.2 241.4 L68.7 243.2 L69.2 245.0 L69.7 246.7 L70.2 248.3 L70.6 249.8 L71.1 251.3 L71.6 252.7 L72.1 254.0 L72.6 255.4 L73.1 256.6 L73.6 257.9 L74.1 259.0 L74.5 260.2 L75.0 261.3 L75.5 262.4 L76.0 263.5 L76.5 264.5 L77.0 265.5 L77.5 266.5 L78.0 267.4 L78.5 268.3 L78.9 269.2 L79.4 270.1 L79.9 271.0 L81.9 274.3 L83.8 277.3 L85.8 280.2 L87.7 282.8 L89.7 285.3 L91.6 287.6 L93.6 289.9 L95.5 292.0 L97.5 294.0 L99.4 295.9 L101.4 297.7 L103.3 299.5 L105.3 301.2 L107.2 302.8 L109.2 304.4 L111.1 305.9 L113.1 307.4 L115.1 308.8 L117.0 310.2 L119.0 311.5 L120.9 312.8 L122.9 314.1 L124.8 315.3 L126.8 316.5 L128.7 317.7 L130.7 318.8 L132.6 319.9 L134.6 321.0 L136.5 322.0 L138.5 323.1 L140.4 324.1 L142.4 325.1 L144.3 326.1 L146.3 327.0 L148.2 327.9 L150.2 328.9 L152.1 329.8 L154.1 330.6 L156.0 331.5 L158.0 332.4 L159.9 333.2 L161.9 334.0 L163.9 334.8 L165.8 335.6 L167.8 336.4 L169.7 337.2 L171.7 337.9 L173.6 338.7 L175.6 339.4 L177.5 340.1 L179.5 340.9 L181.4 341.6 L183.4 342.3 L185.3 342.9 L187.3 343.6 L189.2 344.3 L191.2 344.9 L193.1 345.6 L195.1 346.2 L197.0 346.9 L199.0 347.5 L200.9 348.1 L202.9 348.7 L204.8 349.3 L206.8 349.9 L208.7 350.5 L210.7 351.1 L212.7 351.6 L214.6 352.2 L216.6 352.8 L218.5 353.3 L220.5 353.9 L222.4 354.4 L224.4 355.0 L226.3 355.5 L228.3 356.0 L230.2 356.6 L232.2 357.1 L234.1 357.6 L236.1 358.1 L238.0 358.6 L240.0 359.1 L241.9 359.6 L243.9 360.1 L245.8 360.6 L247.8 361.0 L249.7 361.5 L251.7 362.0 L253.6 362.4 L255.6 362.9 L257.5 363.4" fill="none" stroke="#f22" stroke-width="1.1"/>
<rect x="112.5" y="229.8" width="135.7" height="14.3" fill="#fff" stroke="#858585" stroke-width="1"/>
<text x="114.3" y="240.7" class="at" style="font-size:9.4px;fill:#222">y= 2132.8-1054.3(X<tspan dy="-3.4" style="font-size:6.7px">0.12</tspan><tspan dy="3.4">); R</tspan><tspan dy="-3.4" style="font-size:6.7px">2</tspan><tspan dy="3.4">= 0.81</tspan></text>
<text x="13.4" y="291.5" transform="rotate(-90 13.4 291.5)" text-anchor="middle" class="at yt">Al (ppm)</text>
<text x="141.5" y="405.2" class="at">Ti (ppm)<tspan class="pl">(c)</tspan></text>
<path d="M307.9 206.2V377.9H542.5" fill="none" stroke="#3a3a3a" stroke-width="1"/>
<path d="M304.4 368.9H307.9" stroke="#3a3a3a" stroke-width="1"/>
<text x="301.6" y="371.9" text-anchor="end" class="tl">0</text>
<path d="M306.09999999999997 360.3H307.9" stroke="#3a3a3a" stroke-width="1"/>
<path d="M304.4 351.7H307.9" stroke="#3a3a3a" stroke-width="1"/>
<text x="301.6" y="354.7" text-anchor="end" class="tl">200</text>
<path d="M306.09999999999997 343.2H307.9" stroke="#3a3a3a" stroke-width="1"/>
<path d="M304.4 334.6H307.9" stroke="#3a3a3a" stroke-width="1"/>
<text x="301.6" y="337.6" text-anchor="end" class="tl">400</text>
<path d="M306.09999999999997 326.0H307.9" stroke="#3a3a3a" stroke-width="1"/>
<path d="M304.4 317.4H307.9" stroke="#3a3a3a" stroke-width="1"/>
<text x="301.6" y="320.4" text-anchor="end" class="tl">600</text>
<path d="M306.09999999999997 308.8H307.9" stroke="#3a3a3a" stroke-width="1"/>
<path d="M304.4 300.3H307.9" stroke="#3a3a3a" stroke-width="1"/>
<text x="301.6" y="303.3" text-anchor="end" class="tl">800</text>
<path d="M306.09999999999997 291.7H307.9" stroke="#3a3a3a" stroke-width="1"/>
<path d="M304.4 283.1H307.9" stroke="#3a3a3a" stroke-width="1"/>
<text x="301.6" y="286.1" text-anchor="end" class="tl">1000</text>
<path d="M306.09999999999997 274.5H307.9" stroke="#3a3a3a" stroke-width="1"/>
<path d="M304.4 265.9H307.9" stroke="#3a3a3a" stroke-width="1"/>
<text x="301.6" y="268.9" text-anchor="end" class="tl">1200</text>
<path d="M306.09999999999997 257.4H307.9" stroke="#3a3a3a" stroke-width="1"/>
<path d="M304.4 248.8H307.9" stroke="#3a3a3a" stroke-width="1"/>
<text x="301.6" y="251.8" text-anchor="end" class="tl">1400</text>
<path d="M306.09999999999997 240.2H307.9" stroke="#3a3a3a" stroke-width="1"/>
<path d="M304.4 231.6H307.9" stroke="#3a3a3a" stroke-width="1"/>
<text x="301.6" y="234.6" text-anchor="end" class="tl">1600</text>
<path d="M306.09999999999997 223.0H307.9" stroke="#3a3a3a" stroke-width="1"/>
<path d="M304.4 214.5H307.9" stroke="#3a3a3a" stroke-width="1"/>
<text x="301.6" y="217.5" text-anchor="end" class="tl">1800</text>
<path d="M306.09999999999997 205.9H307.9" stroke="#3a3a3a" stroke-width="1"/>
<path d="M307.6 377.9V379.7" stroke="#3a3a3a" stroke-width="1"/>
<path d="M327.2 377.9V381.4" stroke="#3a3a3a" stroke-width="1"/>
<text x="327.2" y="389.9" text-anchor="middle" class="tl">0</text>
<path d="M346.8 377.9V379.7" stroke="#3a3a3a" stroke-width="1"/>
<path d="M366.3 377.9V381.4" stroke="#3a3a3a" stroke-width="1"/>
<text x="366.3" y="389.9" text-anchor="middle" class="tl">100</text>
<path d="M385.9 377.9V379.7" stroke="#3a3a3a" stroke-width="1"/>
<path d="M405.4 377.9V381.4" stroke="#3a3a3a" stroke-width="1"/>
<text x="405.4" y="389.9" text-anchor="middle" class="tl">200</text>
<path d="M424.9 377.9V379.7" stroke="#3a3a3a" stroke-width="1"/>
<path d="M444.5 377.9V381.4" stroke="#3a3a3a" stroke-width="1"/>
<text x="444.5" y="389.9" text-anchor="middle" class="tl">300</text>
<path d="M464.0 377.9V379.7" stroke="#3a3a3a" stroke-width="1"/>
<path d="M483.6 377.9V381.4" stroke="#3a3a3a" stroke-width="1"/>
<text x="483.6" y="389.9" text-anchor="middle" class="tl">400</text>
<path d="M503.1 377.9V379.7" stroke="#3a3a3a" stroke-width="1"/>
<path d="M522.7 377.9V381.4" stroke="#3a3a3a" stroke-width="1"/>
<text x="522.7" y="389.9" text-anchor="middle" class="tl">500</text>
<path d="M542.2 377.9V379.7" stroke="#3a3a3a" stroke-width="1"/>
<rect x="332.4" y="356.4" width="3.9" height="3.9" fill="#3d3d3d"/>
<rect x="333.2" y="354.1" width="3.9" height="3.9" fill="#3d3d3d"/>
<rect x="333.9" y="351.8" width="3.9" height="3.9" fill="#3d3d3d"/>
<rect x="334.9" y="349.4" width="3.9" height="3.9" fill="#3d3d3d"/>
<rect x="335.7" y="347.2" width="3.9" height="3.9" fill="#3d3d3d"/>
<rect x="346.2" y="346.6" width="3.9" height="3.9" fill="#3d3d3d"/>
<rect x="348.9" y="345.2" width="3.9" height="3.9" fill="#3d3d3d"/>
<rect x="344.2" y="357.2" width="3.9" height="3.9" fill="#3d3d3d"/>
<rect x="348.2" y="356.4" width="3.9" height="3.9" fill="#3d3d3d"/>
<rect x="346.9" y="354.4" width="3.9" height="3.9" fill="#3d3d3d"/>
<rect x="355.6" y="359.8" width="3.9" height="3.9" fill="#3d3d3d"/>
<rect x="358.9" y="358.4" width="3.9" height="3.9" fill="#3d3d3d"/>
<rect x="362.8" y="357.2" width="3.9" height="3.9" fill="#3d3d3d"/>
<rect x="365.4" y="356.4" width="3.9" height="3.9" fill="#3d3d3d"/>
<rect x="360.1" y="359.6" width="3.9" height="3.9" fill="#3d3d3d"/>
<rect x="370.6" y="351.2" width="3.9" height="3.9" fill="#3d3d3d"/>
<rect x="373.4" y="353.4" width="3.9" height="3.9" fill="#3d3d3d"/>
<rect x="376.1" y="355.1" width="3.9" height="3.9" fill="#3d3d3d"/>
<rect x="378.8" y="353.4" width="3.9" height="3.9" fill="#3d3d3d"/>
<rect x="382.6" y="351.2" width="3.9" height="3.9" fill="#3d3d3d"/>
<rect x="371.7" y="357.2" width="3.9" height="3.9" fill="#3d3d3d"/>
<rect x="377.7" y="357.2" width="3.9" height="3.9" fill="#3d3d3d"/>
<rect x="381.6" y="356.2" width="3.9" height="3.9" fill="#3d3d3d"/>
<rect x="375.1" y="357.8" width="3.9" height="3.9" fill="#3d3d3d"/>
<rect x="389.7" y="345.8" width="3.9" height="3.9" fill="#3d3d3d"/>
<rect x="397.9" y="347.4" width="3.9" height="3.9" fill="#3d3d3d"/>
<rect x="394.1" y="350.7" width="3.9" height="3.9" fill="#3d3d3d"/>
<rect x="391.9" y="352.9" width="3.9" height="3.9" fill="#3d3d3d"/>
<rect x="388.6" y="357.2" width="3.9" height="3.9" fill="#3d3d3d"/>
<rect x="394.1" y="357.2" width="3.9" height="3.9" fill="#3d3d3d"/>
<rect x="398.4" y="357.2" width="3.9" height="3.9" fill="#3d3d3d"/>
<rect x="400.6" y="356.2" width="3.9" height="3.9" fill="#3d3d3d"/>
<rect x="401.6" y="337.2" width="3.9" height="3.9" fill="#3d3d3d"/>
<rect x="407.2" y="355.6" width="3.9" height="3.9" fill="#3d3d3d"/>
<rect x="410.4" y="354.6" width="3.9" height="3.9" fill="#3d3d3d"/>
<rect x="413.7" y="353.9" width="3.9" height="3.9" fill="#3d3d3d"/>
<rect x="416.9" y="353.4" width="3.9" height="3.9" fill="#3d3d3d"/>
<rect x="408.2" y="358.4" width="3.9" height="3.9" fill="#3d3d3d"/>
<rect x="412.6" y="357.8" width="3.9" height="3.9" fill="#3d3d3d"/>
<rect x="419.6" y="354.2" width="3.9" height="3.9" fill="#3d3d3d"/>
<rect x="423.4" y="354.2" width="3.9" height="3.9" fill="#3d3d3d"/>
<rect x="428.2" y="353.4" width="3.9" height="3.9" fill="#3d3d3d"/>
<rect x="432.1" y="351.9" width="3.9" height="3.9" fill="#3d3d3d"/>
<rect x="436.1" y="351.2" width="3.9" height="3.9" fill="#3d3d3d"/>
<rect x="421.1" y="356.6" width="3.9" height="3.9" fill="#3d3d3d"/>
<rect x="426.1" y="355.6" width="3.9" height="3.9" fill="#3d3d3d"/>
<rect x="439.1" y="350.6" width="3.9" height="3.9" fill="#3d3d3d"/>
<rect x="442.6" y="350.1" width="3.9" height="3.9" fill="#3d3d3d"/>
<rect x="445.6" y="349.6" width="3.9" height="3.9" fill="#3d3d3d"/>
<rect x="335.2" y="346.9" width="3.9" height="3.9" fill="#3d3d3d"/>
<rect x="347.4" y="345.7" width="3.9" height="3.9" fill="#3d3d3d"/>
<rect x="444.7" y="216.9" width="3.9" height="3.9" fill="#3d3d3d"/>
<rect x="429.8" y="262.6" width="3.9" height="3.9" fill="#3d3d3d"/>
<rect x="447.4" y="270.7" width="3.9" height="3.9" fill="#3d3d3d"/>
<rect x="450.2" y="270.7" width="3.9" height="3.9" fill="#3d3d3d"/>
<rect x="454.2" y="269.9" width="3.9" height="3.9" fill="#3d3d3d"/>
<rect x="466.2" y="274.4" width="3.9" height="3.9" fill="#3d3d3d"/>
<rect x="432.6" y="275.9" width="3.9" height="3.9" fill="#3d3d3d"/>
<rect x="426.8" y="280.4" width="3.9" height="3.9" fill="#3d3d3d"/>
<rect x="427.9" y="283.2" width="3.9" height="3.9" fill="#3d3d3d"/>
<rect x="427.9" y="285.9" width="3.9" height="3.9" fill="#3d3d3d"/>
<rect x="424.1" y="290.1" width="3.9" height="3.9" fill="#3d3d3d"/>
<rect x="450.9" y="341.4" width="3.9" height="3.9" fill="#3d3d3d"/>
<rect x="452.2" y="344.1" width="3.9" height="3.9" fill="#3d3d3d"/>
<rect x="457.2" y="344.1" width="3.9" height="3.9" fill="#3d3d3d"/>
<rect x="458.6" y="347.8" width="3.9" height="3.9" fill="#3d3d3d"/>
<rect x="463.7" y="340.2" width="3.9" height="3.9" fill="#3d3d3d"/>
<rect x="448.4" y="349.1" width="3.9" height="3.9" fill="#3d3d3d"/>
<rect x="449.7" y="352.9" width="3.9" height="3.9" fill="#3d3d3d"/>
<rect x="464.4" y="339.9" width="3.9" height="3.9" fill="#3d3d3d"/>
<rect x="458.1" y="344.4" width="3.9" height="3.9" fill="#3d3d3d"/>
<rect x="480.9" y="328.9" width="3.9" height="3.9" fill="#3d3d3d"/>
<rect x="483.7" y="330.8" width="3.9" height="3.9" fill="#3d3d3d"/>
<rect x="482.8" y="334.2" width="3.9" height="3.9" fill="#3d3d3d"/>
<rect x="467.2" y="360.1" width="3.9" height="3.9" fill="#3d3d3d"/>
<rect x="470.7" y="361.7" width="3.9" height="3.9" fill="#3d3d3d"/>
<rect x="483.7" y="359.4" width="3.9" height="3.9" fill="#3d3d3d"/>
<rect x="496.6" y="353.2" width="3.9" height="3.9" fill="#3d3d3d"/>
<rect x="500.4" y="357.8" width="3.9" height="3.9" fill="#3d3d3d"/>
<rect x="498.2" y="359.4" width="3.9" height="3.9" fill="#3d3d3d"/>
<rect x="511.8" y="346.1" width="3.9" height="3.9" fill="#3d3d3d"/>
<rect x="468.7" y="361.2" width="3.9" height="3.9" fill="#3d3d3d"/>
<rect x="453.6" y="353.1" width="3.9" height="3.9" fill="#3d3d3d"/>
<rect x="453.1" y="342.6" width="3.9" height="3.9" fill="#3d3d3d"/>
<circle cx="333.6" cy="367.4" r="2.35" fill="#f03a3a"/>
<circle cx="335.5" cy="367.7" r="2.35" fill="#f03a3a"/>
<circle cx="338.1" cy="367.5" r="2.35" fill="#f03a3a"/>
<circle cx="344.9" cy="367.8" r="2.35" fill="#f03a3a"/>
<circle cx="348.2" cy="368.0" r="2.35" fill="#f03a3a"/>
<circle cx="350.2" cy="367.9" r="2.35" fill="#f03a3a"/>
<circle cx="357.0" cy="367.4" r="2.35" fill="#f03a3a"/>
<circle cx="359.8" cy="368.1" r="2.35" fill="#f03a3a"/>
<circle cx="361.7" cy="368.1" r="2.35" fill="#f03a3a"/>
<circle cx="364.5" cy="367.7" r="2.35" fill="#f03a3a"/>
<circle cx="367.7" cy="368.0" r="2.35" fill="#f03a3a"/>
<circle cx="372.0" cy="367.6" r="2.35" fill="#f03a3a"/>
<circle cx="374.9" cy="367.6" r="2.35" fill="#f03a3a"/>
<circle cx="377.2" cy="367.6" r="2.35" fill="#f03a3a"/>
<circle cx="380.3" cy="367.3" r="2.35" fill="#f03a3a"/>
<circle cx="382.8" cy="367.7" r="2.35" fill="#f03a3a"/>
<circle cx="384.8" cy="367.6" r="2.35" fill="#f03a3a"/>
<circle cx="388.0" cy="367.7" r="2.35" fill="#f03a3a"/>
<circle cx="390.1" cy="368.1" r="2.35" fill="#f03a3a"/>
<circle cx="393.4" cy="368.1" r="2.35" fill="#f03a3a"/>
<circle cx="395.3" cy="367.5" r="2.35" fill="#f03a3a"/>
<circle cx="397.8" cy="367.9" r="2.35" fill="#f03a3a"/>
<circle cx="400.7" cy="367.4" r="2.35" fill="#f03a3a"/>
<circle cx="403.4" cy="368.0" r="2.35" fill="#f03a3a"/>
<circle cx="409.1" cy="367.5" r="2.35" fill="#f03a3a"/>
<circle cx="411.0" cy="368.0" r="2.35" fill="#f03a3a"/>
<circle cx="414.1" cy="367.9" r="2.35" fill="#f03a3a"/>
<circle cx="416.2" cy="367.3" r="2.35" fill="#f03a3a"/>
<circle cx="419.4" cy="367.6" r="2.35" fill="#f03a3a"/>
<circle cx="421.4" cy="368.1" r="2.35" fill="#f03a3a"/>
<circle cx="424.5" cy="367.9" r="2.35" fill="#f03a3a"/>
<circle cx="426.6" cy="368.0" r="2.35" fill="#f03a3a"/>
<circle cx="429.2" cy="368.0" r="2.35" fill="#f03a3a"/>
<circle cx="432.2" cy="367.6" r="2.35" fill="#f03a3a"/>
<circle cx="434.9" cy="368.0" r="2.35" fill="#f03a3a"/>
<circle cx="437.2" cy="367.4" r="2.35" fill="#f03a3a"/>
<circle cx="440.0" cy="367.5" r="2.35" fill="#f03a3a"/>
<circle cx="442.2" cy="367.4" r="2.35" fill="#f03a3a"/>
<circle cx="444.8" cy="367.5" r="2.35" fill="#f03a3a"/>
<circle cx="447.6" cy="367.5" r="2.35" fill="#f03a3a"/>
<circle cx="450.7" cy="367.5" r="2.35" fill="#f03a3a"/>
<circle cx="453.0" cy="367.4" r="2.35" fill="#f03a3a"/>
<circle cx="455.4" cy="367.3" r="2.35" fill="#f03a3a"/>
<circle cx="458.0" cy="367.3" r="2.35" fill="#f03a3a"/>
<circle cx="465.5" cy="367.7" r="2.35" fill="#f03a3a"/>
<circle cx="467.6" cy="367.7" r="2.35" fill="#f03a3a"/>
<circle cx="470.9" cy="367.4" r="2.35" fill="#f03a3a"/>
<circle cx="473.4" cy="367.6" r="2.35" fill="#f03a3a"/>
<circle cx="483.3" cy="368.0" r="2.35" fill="#f03a3a"/>
<circle cx="485.8" cy="367.7" r="2.35" fill="#f03a3a"/>
<circle cx="497.5" cy="368.1" r="2.35" fill="#f03a3a"/>
<circle cx="499.7" cy="368.0" r="2.35" fill="#f03a3a"/>
<circle cx="502.7" cy="367.8" r="2.35" fill="#f03a3a"/>
<circle cx="345.5" cy="371.0" r="2.35" fill="#f03a3a"/>
<circle cx="485.0" cy="365.2" r="2.35" fill="#f03a3a"/>
<circle cx="461.0" cy="365.8" r="2.35" fill="#f03a3a"/>
<circle cx="403.0" cy="365.8" r="2.35" fill="#f03a3a"/>
<circle cx="428.0" cy="365.3" r="2.35" fill="#f03a3a"/>
<circle cx="432.0" cy="365.3" r="2.35" fill="#f03a3a"/>
<circle cx="349.0" cy="365.2" r="2.35" fill="#f03a3a"/>
<circle cx="351.5" cy="365.4" r="2.35" fill="#f03a3a"/>
<path d="M331.7 371.0L337.7 371.0L334.7 365.2Z" fill="#1d5fe2"/>
<path d="M333.1 370.9L339.1 370.9L336.1 365.1Z" fill="#1d5fe2"/>
<path d="M334.5 370.4L340.5 370.4L337.5 364.6Z" fill="#1d5fe2"/>
<path d="M343.7 370.5L349.7 370.5L346.7 364.7Z" fill="#1d5fe2"/>
<path d="M345.1 370.4L351.1 370.4L348.1 364.6Z" fill="#1d5fe2"/>
<path d="M346.5 371.6L352.5 371.6L349.5 365.8Z" fill="#1d5fe2"/>
<path d="M355.2 370.8L361.2 370.8L358.2 365.0Z" fill="#1d5fe2"/>
<path d="M356.6 370.6L362.6 370.6L359.6 364.8Z" fill="#1d5fe2"/>
<path d="M358.0 370.5L364.0 370.5L361.0 364.7Z" fill="#1d5fe2"/>
<path d="M359.4 371.8L365.4 371.8L362.4 366.0Z" fill="#1d5fe2"/>
<path d="M360.8 371.9L366.8 371.9L363.8 366.1Z" fill="#1d5fe2"/>
<path d="M362.2 371.5L368.2 371.5L365.2 365.7Z" fill="#1d5fe2"/>
<path d="M370.7 370.8L376.7 370.8L373.7 365.0Z" fill="#1d5fe2"/>
<path d="M372.1 370.7L378.1 370.7L375.1 364.9Z" fill="#1d5fe2"/>
<path d="M373.5 370.8L379.5 370.8L376.5 365.0Z" fill="#1d5fe2"/>
<path d="M374.9 371.1L380.9 371.1L377.9 365.3Z" fill="#1d5fe2"/>
<path d="M376.3 370.6L382.3 370.6L379.3 364.8Z" fill="#1d5fe2"/>
<path d="M377.7 371.1L383.7 371.1L380.7 365.3Z" fill="#1d5fe2"/>
<path d="M379.1 370.8L385.1 370.8L382.1 365.0Z" fill="#1d5fe2"/>
<path d="M380.5 372.0L386.5 372.0L383.5 366.2Z" fill="#1d5fe2"/>
<path d="M381.9 372.1L387.9 372.1L384.9 366.3Z" fill="#1d5fe2"/>
<path d="M383.3 371.3L389.3 371.3L386.3 365.5Z" fill="#1d5fe2"/>
<path d="M384.7 370.8L390.7 370.8L387.7 365.0Z" fill="#1d5fe2"/>
<path d="M386.1 372.0L392.1 372.0L389.1 366.2Z" fill="#1d5fe2"/>
<path d="M387.5 370.9L393.5 370.9L390.5 365.1Z" fill="#1d5fe2"/>
<path d="M388.9 371.0L394.9 371.0L391.9 365.2Z" fill="#1d5fe2"/>
<path d="M390.3 370.3L396.3 370.3L393.3 364.5Z" fill="#1d5fe2"/>
<path d="M391.7 371.0L397.7 371.0L394.7 365.2Z" fill="#1d5fe2"/>
<path d="M393.1 371.2L399.1 371.2L396.1 365.4Z" fill="#1d5fe2"/>
<path d="M394.5 371.2L400.5 371.2L397.5 365.4Z" fill="#1d5fe2"/>
<path d="M395.9 370.7L401.9 370.7L398.9 364.9Z" fill="#1d5fe2"/>
<path d="M397.3 371.2L403.3 371.2L400.3 365.4Z" fill="#1d5fe2"/>
<path d="M398.7 370.3L404.7 370.3L401.7 364.5Z" fill="#1d5fe2"/>
<path d="M407.2 370.8L413.2 370.8L410.2 365.0Z" fill="#1d5fe2"/>
<path d="M408.6 370.5L414.6 370.5L411.6 364.7Z" fill="#1d5fe2"/>
<path d="M410.0 371.0L416.0 371.0L413.0 365.2Z" fill="#1d5fe2"/>
<path d="M411.4 370.4L417.4 370.4L414.4 364.6Z" fill="#1d5fe2"/>
<path d="M412.8 370.4L418.8 370.4L415.8 364.6Z" fill="#1d5fe2"/>
<path d="M414.2 370.9L420.2 370.9L417.2 365.1Z" fill="#1d5fe2"/>
<path d="M415.6 370.7L421.6 370.7L418.6 364.9Z" fill="#1d5fe2"/>
<path d="M417.0 371.4L423.0 371.4L420.0 365.6Z" fill="#1d5fe2"/>
<path d="M418.4 371.3L424.4 371.3L421.4 365.5Z" fill="#1d5fe2"/>
<path d="M419.8 371.7L425.8 371.7L422.8 365.9Z" fill="#1d5fe2"/>
<path d="M421.2 371.5L427.2 371.5L424.2 365.7Z" fill="#1d5fe2"/>
<path d="M422.6 371.6L428.6 371.6L425.6 365.8Z" fill="#1d5fe2"/>
<path d="M424.0 371.9L430.0 371.9L427.0 366.1Z" fill="#1d5fe2"/>
<path d="M425.4 371.0L431.4 371.0L428.4 365.2Z" fill="#1d5fe2"/>
<path d="M426.8 370.9L432.8 370.9L429.8 365.1Z" fill="#1d5fe2"/>
<path d="M428.2 372.1L434.2 372.1L431.2 366.3Z" fill="#1d5fe2"/>
<path d="M429.6 370.6L435.6 370.6L432.6 364.8Z" fill="#1d5fe2"/>
<path d="M431.0 371.6L437.0 371.6L434.0 365.8Z" fill="#1d5fe2"/>
<path d="M432.4 371.5L438.4 371.5L435.4 365.7Z" fill="#1d5fe2"/>
<path d="M433.8 370.4L439.8 370.4L436.8 364.6Z" fill="#1d5fe2"/>
<path d="M435.2 371.8L441.2 371.8L438.2 366.0Z" fill="#1d5fe2"/>
<path d="M436.6 371.9L442.6 371.9L439.6 366.1Z" fill="#1d5fe2"/>
<path d="M438.0 371.4L444.0 371.4L441.0 365.6Z" fill="#1d5fe2"/>
<path d="M439.4 371.6L445.4 371.6L442.4 365.8Z" fill="#1d5fe2"/>
<path d="M440.8 371.8L446.8 371.8L443.8 366.0Z" fill="#1d5fe2"/>
<path d="M442.2 370.6L448.2 370.6L445.2 364.8Z" fill="#1d5fe2"/>
<path d="M443.6 371.3L449.6 371.3L446.6 365.5Z" fill="#1d5fe2"/>
<path d="M445.0 371.2L451.0 371.2L448.0 365.4Z" fill="#1d5fe2"/>
<path d="M446.4 371.8L452.4 371.8L449.4 366.0Z" fill="#1d5fe2"/>
<path d="M447.8 371.8L453.8 371.8L450.8 366.0Z" fill="#1d5fe2"/>
<path d="M449.2 371.8L455.2 371.8L452.2 366.0Z" fill="#1d5fe2"/>
<path d="M450.6 371.4L456.6 371.4L453.6 365.6Z" fill="#1d5fe2"/>
<path d="M452.0 371.9L458.0 371.9L455.0 366.1Z" fill="#1d5fe2"/>
<path d="M453.4 371.5L459.4 371.5L456.4 365.7Z" fill="#1d5fe2"/>
<path d="M454.8 371.6L460.8 371.6L457.8 365.8Z" fill="#1d5fe2"/>
<path d="M456.2 370.7L462.2 370.7L459.2 364.9Z" fill="#1d5fe2"/>
<path d="M463.7 370.4L469.7 370.4L466.7 364.6Z" fill="#1d5fe2"/>
<path d="M465.1 370.5L471.1 370.5L468.1 364.7Z" fill="#1d5fe2"/>
<path d="M466.5 371.0L472.5 371.0L469.5 365.2Z" fill="#1d5fe2"/>
<path d="M467.9 370.5L473.9 370.5L470.9 364.7Z" fill="#1d5fe2"/>
<path d="M469.3 371.8L475.3 371.8L472.3 366.0Z" fill="#1d5fe2"/>
<path d="M481.7 371.3L487.7 371.3L484.7 365.5Z" fill="#1d5fe2"/>
<path d="M495.7 371.4L501.7 371.4L498.7 365.6Z" fill="#1d5fe2"/>
<path d="M497.1 371.4L503.1 371.4L500.1 365.6Z" fill="#1d5fe2"/>
<path d="M498.5 371.5L504.5 371.5L501.5 365.7Z" fill="#1d5fe2"/>
<path d="M345.5 369.4L351.5 369.4L348.5 363.6Z" fill="#1d5fe2"/>
<path d="M347.0 368.6L353.0 368.6L350.0 362.8Z" fill="#1d5fe2"/>
<path d="M344.0 369.6L350.0 369.6L347.0 363.8Z" fill="#1d5fe2"/>
<path d="M511.0 370.4L517.0 370.4L514.0 364.6Z" fill="#1d5fe2"/>
<rect x="319.2" y="207" width="38.3" height="37.3" fill="#fff" stroke="#858585" stroke-width="1"/>
<rect x="329.2" y="212.1" width="4.1" height="4.1" fill="#3d3d3d"/>
<circle cx="331.3" cy="225.9" r="2.4" fill="#f03a3a"/>
<path d="M328.6 239.7L334.0 239.7L331.3 235.1Z" fill="#1d5fe2"/>
<text x="345.1" y="216.6" class="lg">Al</text>
<text x="345.1" y="228.9" class="lg">Li</text>
<text x="345.1" y="240.4" class="lg">Na</text>
<text x="280.4" y="291.3" transform="rotate(-90 280.4 291.3)" text-anchor="middle" class="at yt">Al+Na+K (ppm)</text>
<text x="408.6" y="404" class="at">Ti (ppm)<tspan class="pl">(d)</tspan></text>
</svg></body></html>
